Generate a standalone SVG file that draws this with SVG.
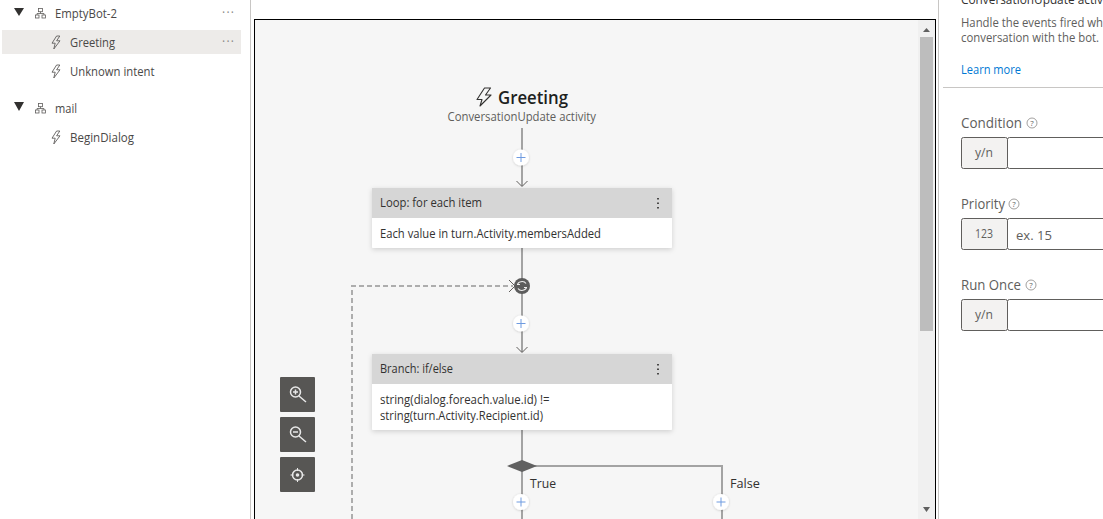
<svg xmlns="http://www.w3.org/2000/svg" width="1103" height="519" viewBox="0 0 1103 519">
<style>
text{font-family:"Open Sans","Noto Sans","Liberation Sans",sans-serif;font-size:12px;fill:#323130}
.tree{fill:#4a4847}
.dots{fill:#8a8886;font-size:12px}
.bolt{fill:none;stroke:#605e5c;stroke-width:.9;stroke-linejoin:round}
.net{fill:none;stroke:#605e5c;stroke-width:.8}
.card{fill:#fff;filter:url(#sh)}
.head{fill:#d6d6d6}
.line{fill:none;stroke:#a3a3a3;stroke-width:2}
.dash{fill:none;stroke:#adadad;stroke-width:2;stroke-dasharray:5 3}
.arr{fill:none;stroke:#605e5c;stroke-width:1}
.plus{fill:#fff;filter:url(#sh2)}
.pl{fill:none;stroke:#6f9be0;stroke-width:1}
.zb{fill:#575654}
.zi{fill:none;stroke:#e8e8e8;stroke-width:1.5}
.lab{font-size:14px;fill:#605e5c}
.pre{fill:#f3f2f1;stroke:#605e5c;stroke-width:1}
.inp{fill:#fff;stroke:#605e5c;stroke-width:1}
.q{fill:none;stroke:#8a8886;stroke-width:.8}
.qt{font-size:8px;fill:#605e5c}
</style>
<defs>
<filter id="sh" x="-5%" y="-10%" width="110%" height="125%"><feDropShadow dx="0" dy="1.5" stdDeviation="2.5" flood-color="#000" flood-opacity=".16"/></filter>
<filter id="sh2" x="-40%" y="-40%" width="180%" height="180%"><feDropShadow dx="0" dy=".5" stdDeviation="1" flood-color="#000" flood-opacity=".2"/></filter>
<path id="b" d="M4.6 0L0 7.2H3.2L1.8 13L8 4.8H4.6L7.8 0Z" class="bolt"/>
<g id="n" class="net"><rect x="3.5" y="0.5" width="4" height="3.2"/><path d="M5.5 3.7V5.5M2 7V5.5H9V7"/><rect x="0.5" y="7" width="3.5" height="3"/><rect x="7" y="7" width="3.5" height="3"/></g>
<g id="p"><circle r="8" class="plus"/><path d="M-4.500 0H4.500M0 -4.500V4.500" class="pl"/></g>
<g id="h"><circle r="5" class="q"/><text x="0" y="3" text-anchor="middle" class="qt">?</text></g>
</defs>
<rect width="1103" height="519" fill="#fff"/>
<g id="tree">
<rect x="2" y="30" width="239" height="24" fill="#edebe9"/>
<path d="M14 8H24L19 16Z M14 102H24L19 111Z" fill="#323130"/>
<g id="emptybot"><use href="#n" x="35" y="8"/><text x="55" y="18" class="tree" textLength="62" lengthAdjust="spacingAndGlyphs">EmptyBot-2</text><text x="222" y="17" class="dots" textLength="12">···</text></g>
<g id="greeting"><use href="#b" x="52" y="36"/><text x="70" y="47" class="tree" textLength="45" lengthAdjust="spacingAndGlyphs">Greeting</text><text x="222" y="46" class="dots" textLength="12">···</text></g>
<g id="unknown"><use href="#b" x="52" y="65"/><text x="70" y="76" class="tree" textLength="84.500" lengthAdjust="spacingAndGlyphs">Unknown intent</text></g>
<g id="mail"><use href="#n" x="35" y="103"/><text x="55" y="113" class="tree" textLength="22" lengthAdjust="spacingAndGlyphs">mail</text></g>
<g id="begindialog"><use href="#b" x="52" y="131"/><text x="70" y="142" class="tree" textLength="64" lengthAdjust="spacingAndGlyphs">BeginDialog</text></g>
</g>
<rect x="250" y="0" width="1" height="519" fill="#c8c6c4"/>
<rect x="938" y="0" width="1" height="519" fill="#c8c6c4"/>
<g id="canvas">
<rect x="254.500" y="19.500" width="681" height="510" fill="#f6f6f6" stroke="#000" stroke-width="1"/>
<rect x="918" y="20" width="17" height="499" fill="#f0f0f0"/>
<rect x="920" y="37" width="13" height="294" fill="#bdbdbd"/>
<path d="M923 32L926.500 28L930 32Z M923 507H930L926.500 512Z" fill="#606060"/>
</g>
<g id="connectors">
<path class="line" d="M522 128V186M522 248V352M522 430V519M535 466H722V519"/>
<path class="dash" d="M352 519V286H513"/>
<path class="arr" d="M516.500 181L522 186.500L527.500 181M516.500 347L522 352.500L527.500 347M509 280L515 286L509 292"/>
<use href="#p" x="521" y="157.500"/>
<use href="#p" x="521" y="323.500"/>
<use href="#p" x="521" y="502"/>
<use href="#p" x="721" y="502"/>
<path d="M507 466L522 460L537 466L522 472Z" fill="#616161"/>
<circle cx="522" cy="286" r="8" fill="#5c5c5c"/>
<path d="M517.500 285A4.500 3.500 0 0 1 526 283.500M526.500 287A4.500 3.500 0 0 1 518 288.500M517 284.500H520M524 287.500H527" fill="none" stroke="#eee" stroke-width="1.100"/>
<text x="530" y="488" style="font-size:13px" textLength="26" lengthAdjust="spacingAndGlyphs">True</text>
<text x="730" y="488" style="font-size:13px" textLength="30" lengthAdjust="spacingAndGlyphs">False</text>
</g>
<g id="trigger">
<path d="M484.500 88L477 99.500H482L480 106L491 95H485.500L490.500 88Z" fill="none" stroke="#323130" stroke-width="1.100" stroke-linejoin="round"/>
<text x="498" y="104" style="font-size:18px;font-weight:600;fill:#201f1e" textLength="70" lengthAdjust="spacingAndGlyphs">Greeting</text>
<text x="447.500" y="121" style="fill:#605e5c" textLength="148.500" lengthAdjust="spacingAndGlyphs">ConversationUpdate activity</text>
</g>
<g id="loop">
<rect x="372" y="188" width="300" height="60" rx="1" class="card"/>
<rect x="372" y="188" width="300" height="30" class="head"/>
<text x="380" y="207" textLength="102" lengthAdjust="spacingAndGlyphs">Loop: for each item</text>
<path d="M658 198v1.500M658 202.500v1.500M658 207v1.500" stroke="#323130" stroke-width="1.700" fill="none"/>
<text x="380" y="238" textLength="221" lengthAdjust="spacingAndGlyphs">Each value in turn.Activity.membersAdded</text>
</g>
<g id="branch">
<rect x="372" y="354" width="300" height="76" rx="1" class="card"/>
<rect x="372" y="354" width="300" height="30" class="head"/>
<text x="380" y="373" textLength="73" lengthAdjust="spacingAndGlyphs">Branch: if/else</text>
<path d="M658 364v1.500M658 368.500v1.500M658 373v1.500" stroke="#323130" stroke-width="1.700" fill="none"/>
<text x="380" y="404" textLength="169.500" lengthAdjust="spacingAndGlyphs">string(dialog.foreach.value.id) !=</text>
<text x="380" y="420" textLength="163" lengthAdjust="spacingAndGlyphs">string(turn.Activity.Recipient.id)</text>
</g>
<g id="zoom">
<rect x="280" y="377" width="35" height="35" rx="1" class="zb"/>
<rect x="280" y="417" width="35" height="35" rx="1" class="zb"/>
<rect x="280" y="457" width="35" height="35" rx="1" class="zb"/>
<circle cx="295.500" cy="392" r="5" class="zi"/><path d="M299 396L306 402M293 392H298M295.500 389.500V394.500" class="zi"/>
<circle cx="295.500" cy="432" r="5" class="zi"/><path d="M299 436L306 442M293 432H298" class="zi"/>
<circle cx="297.500" cy="475" r="5" class="zi"/><circle cx="297.500" cy="475" r="1.800" fill="#e8e8e8"/><path d="M297.500 468V471M297.500 479V482M290.500 475H293.500M301.500 475H304.500" class="zi" style="stroke-width:1"/>
</g>
<g id="properties">
<text x="961" y="4" textLength="142" lengthAdjust="spacingAndGlyphs">ConversationUpdate activ</text>
<text x="961" y="27" style="fill:#605e5c" textLength="142" lengthAdjust="spacingAndGlyphs">Handle the events fired wh</text>
<text x="961" y="42" style="fill:#605e5c" textLength="138" lengthAdjust="spacingAndGlyphs">conversation with the bot.</text>
<text x="961" y="74" style="fill:#0078d4" textLength="60" lengthAdjust="spacingAndGlyphs">Learn more</text>
<rect x="943" y="87" width="160" height="1" fill="#c8c6c4"/>
<g id="condition"><text x="961" y="128" class="lab" textLength="61" lengthAdjust="spacingAndGlyphs">Condition</text><use href="#h" x="1032" y="123"/>
<rect x="961.500" y="137.500" width="46" height="31" rx="2" class="pre"/><rect x="1007.500" y="137.500" width="110" height="31" rx="2" class="inp"/><text x="975" y="157" style="fill:#605e5c" textLength="18" lengthAdjust="spacingAndGlyphs">y/n</text></g>
<g id="priority"><text x="961" y="209" class="lab" textLength="44" lengthAdjust="spacingAndGlyphs">Priority</text><use href="#h" x="1014" y="204"/>
<rect x="961.500" y="218.500" width="46" height="31" rx="2" class="pre"/><rect x="1007.500" y="218.500" width="110" height="31" rx="2" class="inp"/><text x="975" y="238" style="fill:#605e5c" textLength="18" lengthAdjust="spacingAndGlyphs">123</text><text x="1016" y="240" style="font-size:13.500px;fill:#605e5c" textLength="36" lengthAdjust="spacingAndGlyphs">ex. 15</text></g>
<g id="runonce"><text x="961" y="290" class="lab" textLength="60" lengthAdjust="spacingAndGlyphs">Run Once</text><use href="#h" x="1031" y="285"/>
<rect x="961.500" y="299.500" width="46" height="31" rx="2" class="pre"/><rect x="1007.500" y="299.500" width="110" height="31" rx="2" class="inp"/><text x="975" y="319" style="fill:#605e5c" textLength="18" lengthAdjust="spacingAndGlyphs">y/n</text></g>
</g>
</svg>
